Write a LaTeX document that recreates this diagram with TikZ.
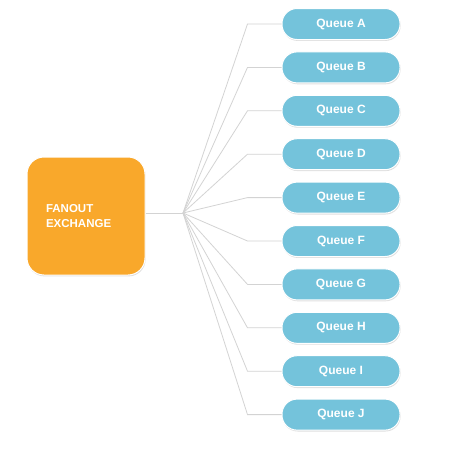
\documentclass[tikz,border=0pt]{standalone}
\usepackage{fontspec}
\setmainfont{Liberation Sans}
\usetikzlibrary{calc,positioning,shadows}

\definecolor{fanorange}{HTML}{F9A82B}
\definecolor{queueblue}{HTML}{74C3DB}
\definecolor{linkgray}{HTML}{D3D3D3}

\begin{document}
\begin{tikzpicture}[x=1pt,y=-1pt,
    exchange/.style={draw=white,line width=1pt,fill=fanorange,rounded corners=17pt,
      minimum width=118pt,minimum height=118pt,text width=80pt,inner xsep=19pt,align=left,
      text=white,font=\bfseries\fontsize{11.5}{15}\selectfont,
      drop shadow={shadow xshift=0.6pt,shadow yshift=-1.4pt,opacity=0.25}},
    queue/.style={draw=white,line width=1pt,fill=queueblue,rounded corners=15pt,
      minimum width=118pt,minimum height=31pt,
      text=white,font=\bfseries\fontsize{12}{14}\selectfont,
      drop shadow={shadow xshift=0.6pt,shadow yshift=-1.4pt,opacity=0.25}},
    link/.style={draw=linkgray,line width=0.8pt}]
  \useasboundingbox (0,0) rectangle (474,455);

  % Exchange
  \node[exchange] (fanout) at (86,216) {FANOUT\\EXCHANGE};
  \coordinate (hub) at (183,213);
  \draw[link] (fanout.east |- hub) -- (hub);

  % Queues
  \foreach \q [count=\i from 0] in {A,B,C,D,E,F,G,H,I,J} {
    \node[queue] (q\q) at (341,24+43.4*\i) {Queue \q};
    \draw[link] (hub) -- ([xshift=-34pt]q\q.west) -- (q\q.west);
  }

\end{tikzpicture}
\end{document}
